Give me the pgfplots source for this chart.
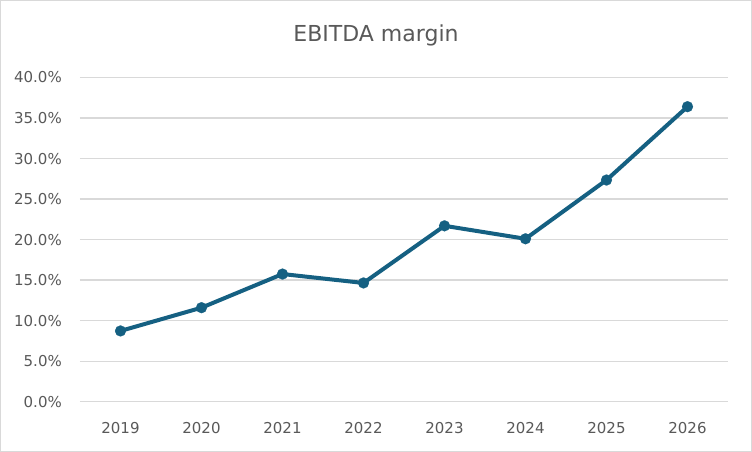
\documentclass[border=0pt]{standalone}
\usepackage{pgfplots}
\pgfplotsset{compat=1.18}
\usepackage{fontspec}
\setmainfont{DejaVu Sans}
\definecolor{linec}{RGB}{21,96,130}
\definecolor{gridc}{RGB}{217,217,217}
\definecolor{txt}{RGB}{89,89,89}
\begin{document}
\begin{tikzpicture}[x=1pt,y=1pt]
\useasboundingbox (0,0) rectangle (752,452);
\fill[white] (0,0) rectangle (752,452);
\draw[gridc,line width=1.2pt] (0.6,0.6) rectangle (751.4,451.4);
\node[txt,font=\fontsize{22}{26}\selectfont] at (376,417) {EBITDA margin};
\begin{axis}[
  at={(80pt,50.3pt)}, anchor=south west,
  scale only axis, width=648pt, height=324.2pt,
  xmin=-0.5, xmax=7.5, ymin=0, ymax=40,
  xtick={0,...,7},
  xticklabels={2019,2020,2021,2022,2023,2024,2025,2026},
  ytick={0,5,...,40},
  yticklabel={\pgfmathprintnumber[fixed,fixed zerofill,precision=1]{\tick}\%},
  /pgf/number format/assume math mode=true,
  ymajorgrids, grid style={gridc,line width=1.3pt},
  axis line style={draw=none},
  major tick length=0pt,
  tick label style={txt,font=\fontsize{15}{17}\selectfont,inner sep=0pt},
  yticklabel style={anchor=east,xshift=-18pt},
  xticklabel style={anchor=north,yshift=-20pt},
  clip=false,
]
\addplot[linec,line width=4pt,mark=*,mark size=5.5pt,mark options={solid,fill=linec,draw=linec,line width=0.1pt}]
coordinates {(0,8.73) (1,11.6) (2,15.75) (3,14.65) (4,21.7) (5,20.1) (6,27.35) (7,36.4)};
\end{axis}
\end{tikzpicture}
\end{document}
